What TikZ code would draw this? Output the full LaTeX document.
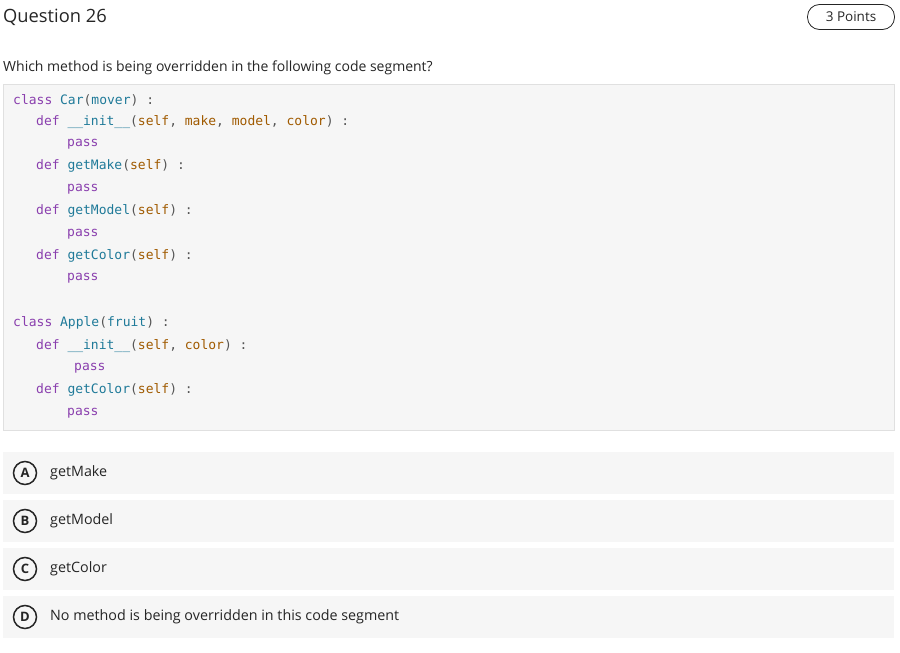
\documentclass[tikz,border=0pt]{standalone}
\usepackage{fontspec}
\setmainfont{Open Sans}
\newfontfamily\codefont{DejaVu Sans Mono}
\definecolor{kw}{HTML}{8A3FAE}
\definecolor{nm}{HTML}{1F7A99}
\definecolor{ar}{HTML}{A05A00}
\definecolor{pu}{HTML}{555555}
\definecolor{bx}{HTML}{F6F6F6}
\definecolor{tx}{HTML}{252525}
\newcommand{\cK}[1]{\textcolor{kw}{#1}}
\newcommand{\cN}[1]{\textcolor{nm}{#1}}
\newcommand{\cA}[1]{\textcolor{ar}{#1}}
\newcommand{\cP}[1]{\textcolor{pu}{#1}}
\begin{document}
\begin{tikzpicture}[x=1pt,y=-1pt,
  code/.style={anchor=west,inner sep=0,font=\codefont\fontsize{13}{15}\selectfont},
  opt/.style={fill=bx,draw=none},
  letter/.style={circle,draw=tx,line width=1.5pt,minimum size=23pt,inner sep=0,font=\fontsize{13}{15}\selectfont\bfseries,text=tx},
  otext/.style={anchor=west,inner sep=0,font=\fontsize{14.3}{16}\selectfont,text=tx}]
\useasboundingbox (0,0) rectangle (900,653);
\node[anchor=west,inner sep=0,font=\fontsize{18.3}{21}\selectfont,text=tx] (q) at (3,17) {Question 26};
\node[draw=tx,line width=0.8pt,rounded corners=12pt,minimum width=87pt,minimum height=25pt,inner sep=0,font=\fontsize{13.5}{15}\selectfont,text=tx] (pts) at (851,17) {3 Points};
\node[anchor=west,inner sep=0,font=\fontsize{14}{16}\selectfont,text=tx] (ques) at (3,68) {Which method is being overridden in the following code segment?};
\node[fill=bx,draw=black!12,minimum width=891pt,minimum height=346pt,anchor=north west,inner sep=0] (cb) at (3,84) {};
\node[code] (l1) at (13,100) {\cK{class} \cN{Car}\cP{(}\cN{mover}\cP{) :}};
\node[code] (l2) at (36,122) {\cK{def} \cN{\_\_init\_\_}\cP{(}\cA{self}\cP{,} \cA{make}\cP{,} \cA{model}\cP{,} \cA{color}\cP{) :}};
\node[code] (l3) at (67,144) {\cK{pass}};
\node[code] (l4) at (36,166) {\cK{def} \cN{getMake}\cP{(}\cA{self}\cP{) :}};
\node[code] (l5) at (67,189) {\cK{pass}};
\node[code] (l6) at (36,211) {\cK{def} \cN{getModel}\cP{(}\cA{self}\cP{) :}};
\node[code] (l7) at (67,234) {\cK{pass}};
\node[code] (l8) at (36,256) {\cK{def} \cN{getColor}\cP{(}\cA{self}\cP{) :}};
\node[code] (l9) at (67,278) {\cK{pass}};
\node[code] (m1) at (13,323) {\cK{class} \cN{Apple}\cP{(}\cN{fruit}\cP{) :}};
\node[code] (m2) at (36,346) {\cK{def} \cN{\_\_init\_\_}\cP{(}\cA{self}\cP{,} \cA{color}\cP{) :}};
\node[code] (m3) at (74,368) {\cK{pass}};
\node[code] (m4) at (36,390) {\cK{def} \cN{getColor}\cP{(}\cA{self}\cP{) :}};
\node[code] (m5) at (67,413) {\cK{pass}};
\foreach \y/\L/\T [count=\i] in {473/A/getMake,521/B/getModel,569/C/getColor,617/D/No method is being overridden in this code segment}{
  \node[opt,minimum width=891pt,minimum height=42pt,inner sep=0] (o\i) at (448.5,\y) {};
  \node[letter] (c\i) at (25,\y) {\L};
  \node[otext] (t\i) at (50,\y) {\T};
}
\end{tikzpicture}
\end{document}
